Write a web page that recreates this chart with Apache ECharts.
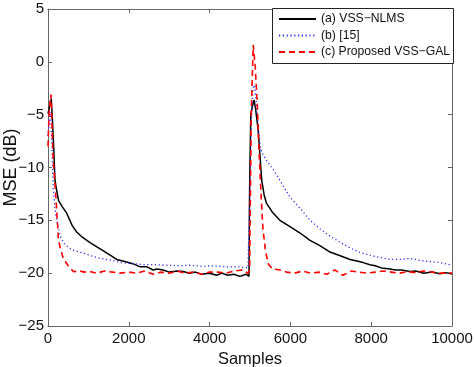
<!DOCTYPE html>
<html>
<head>
<meta charset="utf-8">
<script src="https://cdn.jsdelivr.net/npm/echarts@6/dist/echarts.min.js"></script>
<style>html,body{margin:0;padding:0;background:#fff;}#c{width:474px;height:367px;}</style>
</head>
<body>
<div id="c"></div>
<script>
// ---- data ----
const seriesNames = ['(a) VSS\u2212NLMS', '(b) [15]', '(c) Proposed VSS\u2212GAL'];
const xTicks = [0, 2000, 4000, 6000, 8000, 10000];
const yTicks = [-25, -20, -15, -10, -5, 0, 5];

const blackX = [0, 40, 80, 110, 140, 173, 215, 260, 350, 460, 600, 710, 850, 1040, 1250, 1500, 1700, 1900, 2100, 2280, 2450, 2600, 2700, 2850, 3000, 3200, 3350, 3500, 3650, 3800, 4000, 4175, 4300, 4450, 4600, 4750, 4900, 4975, 4990, 5020, 5060, 5100, 5140, 5200, 5250, 5290, 5350, 5410, 5550, 5740, 5990, 6240, 6485, 6730, 6980, 7200, 7475, 7700, 7800, 7970, 8100, 8250, 8465, 8600, 8750, 8960, 9100, 9300, 9500, 9700, 9850, 10000];
const blackY = [-4.9, -4.2, -3.5, -5.5, -8, -11.2, -12.2, -13.1, -13.7, -14.3, -15.5, -16.1, -16.6, -17.1, -17.6, -18.2, -18.7, -18.9, -19.1, -19.4, -19.4, -19.7, -19.6, -19.7, -19.9, -19.8, -19.85, -20.0, -19.9, -20.1, -20.0, -20.2, -20.0, -20.2, -20.1, -20.3, -20.1, -20.3, -12, -5, -4.2, -3.6, -4.5, -6.4, -9, -11.2, -12.6, -13.4, -14.2, -15.0, -15.6, -16.2, -16.9, -17.4, -18.0, -18.3, -18.7, -18.9, -19.0, -19.2, -19.3, -19.5, -19.6, -19.7, -19.7, -19.85, -19.8, -20.0, -19.9, -20.05, -19.95, -20.07];

const blueX = [0, 30, 60, 100, 130, 170, 215, 300, 420, 600, 870, 1100, 1290, 1600, 1800, 2100, 2400, 2700, 2940, 3200, 3500, 3800, 4100, 4400, 4750, 4950, 4990, 5030, 5070, 5110, 5160, 5200, 5250, 5300, 5400, 5580, 5800, 5990, 6250, 6485, 6730, 6980, 7200, 7475, 7700, 7970, 8200, 8465, 8700, 8960, 9200, 9455, 9700, 9950, 10000];
const blueY = [-7, -5.5, -4.8, -8, -12, -13.8, -15, -16.5, -17.3, -17.8, -18.1, -18.4, -18.6, -18.8, -19.0, -19.1, -19.2, -19.2, -19.25, -19.3, -19.25, -19.35, -19.3, -19.4, -19.4, -19.5, -19.5, -6, -2.5, -2.2, -4, -6.0, -8.0, -8.6, -9.3, -10.2, -11.6, -12.8, -13.9, -15.0, -15.8, -16.5, -17.0, -17.6, -18.0, -18.3, -18.5, -18.7, -18.7, -18.6, -18.8, -18.9, -19.0, -19.2, -19.2];

const redX = [0, 30, 75, 100, 130, 200, 255, 300, 380, 500, 630, 790, 900, 1000, 1200, 1400, 1600, 1800, 2000, 2200, 2400, 2600, 2800, 3000, 3200, 3400, 3600, 3800, 4000, 4200, 4400, 4600, 4800, 4950, 4990, 5030, 5080, 5130, 5180, 5230, 5280, 5320, 5380, 5450, 5550, 5740, 5900, 6100, 6300, 6500, 6700, 6900, 7100, 7300, 7500, 7700, 7900, 8100, 8300, 8500, 8700, 8900, 9100, 9300, 9500, 9700, 9900, 10000];
const redY = [-8, -4.5, -3.1, -6, -9.3, -13.1, -16.6, -17.6, -18.6, -19.3, -19.85, -19.8, -19.9, -19.8, -20.0, -19.8, -19.9, -20.0, -19.9, -20.0, -19.8, -20.1, -19.9, -20.0, -19.8, -20.0, -19.9, -20.1, -19.9, -19.9, -20.0, -19.8, -19.7, -20.0, -19.7, -5, 1.6, -0.5, -4, -9, -13, -15.8, -17.8, -19.1, -19.6, -19.7, -19.9, -20.0, -19.8, -20.0, -19.9, -20.1, -19.7, -20.2, -19.8, -19.9, -20.0, -19.9, -19.8, -19.9, -20.0, -19.85, -19.95, -19.8, -19.9, -20.0, -20.0, -20.0];

// ---- chart ----
const pair = (xs, ys) => xs.map((x, i) => [x, ys[i]]);
const minus = v => String(v).replace('-', '\u2212');
const FONT = '"Liberation Sans", Arial, Helvetica, sans-serif';
const axisColor = '#666';

const chart = echarts.init(document.getElementById('c'), null, {renderer: 'canvas'});
const baseX = {
  type: 'value', min: xTicks[0], max: xTicks[xTicks.length - 1], interval: 2000,
  splitLine: {show: false},
  axisLine: {show: true, onZero: false, lineStyle: {color: axisColor, width: 1}},
  axisTick: {show: true, inside: true, length: 4, lineStyle: {color: axisColor}}
};
const baseY = {
  type: 'value', min: yTicks[0], max: yTicks[yTicks.length - 1], interval: 5,
  splitLine: {show: false},
  axisLine: {show: true, onZero: false, lineStyle: {color: axisColor, width: 1}},
  axisTick: {show: true, inside: true, length: 4, lineStyle: {color: axisColor}}
};
chart.setOption({
  animation: false,
  backgroundColor: '#fff',
  textStyle: {fontFamily: FONT},
  grid: {left: 48, right: 22, top: 9, bottom: 41, containLabel: false, outerBoundsMode: 'none'},
  graphic: [{
    type: 'rect', left: 272, top: 8, z: 3,
    shape: {width: 181, height: 55},
    style: {fill: '#fff', stroke: '#222', lineWidth: 1}
  }],
  legend: {
    orient: 'vertical', left: 272, top: 8,
    padding: [5, 4, 5, 6], itemGap: 4.5, itemWidth: 37, itemHeight: 12,
    itemStyle: {opacity: 0},
    textStyle: {fontFamily: FONT, fontSize: 12.2, color: '#111'},
    data: seriesNames
  },
  xAxis: [
    Object.assign({}, baseX, {
      position: 'bottom',
      name: 'Samples', nameLocation: 'middle', nameGap: 16,
      nameTextStyle: {fontFamily: FONT, fontSize: 16.5, color: '#111'},
      axisLabel: {margin: 5, fontFamily: FONT, fontSize: 15, color: '#111', formatter: minus}
    }),
    Object.assign({}, baseX, {position: 'top', axisLabel: {show: false}})
  ],
  yAxis: [
    Object.assign({}, baseY, {
      position: 'left',
      name: 'MSE (dB)', nameLocation: 'middle', nameGap: 28, nameRotate: 90, nameMoveOverlap: false,
      nameTextStyle: {fontFamily: FONT, fontSize: 18, color: '#111'},
      axisLabel: {margin: 4, fontFamily: FONT, fontSize: 15, color: '#111', formatter: minus}
    }),
    Object.assign({}, baseY, {position: 'right', axisLabel: {show: false}})
  ],
  series: [
    {name: seriesNames[0], type: 'line', data: pair(blackX, blackY), showSymbol: false, symbol: 'none',
     lineStyle: {color: '#000', width: 1.5, type: 'solid'}, itemStyle: {color: '#000'}},
    {name: seriesNames[1], type: 'line', data: pair(blueX, blueY), showSymbol: false, symbol: 'none',
     lineStyle: {color: '#2a2aff', width: 1.3, type: [1.2, 2.6]}, itemStyle: {color: '#2a2aff'}},
    {name: seriesNames[2], type: 'line', data: pair(redX, redY), showSymbol: false, symbol: 'none',
     lineStyle: {color: '#ff0000', width: 1.6, type: [6, 4]}, itemStyle: {color: '#ff0000'}}
  ]
});
</script>
</body>
</html>
